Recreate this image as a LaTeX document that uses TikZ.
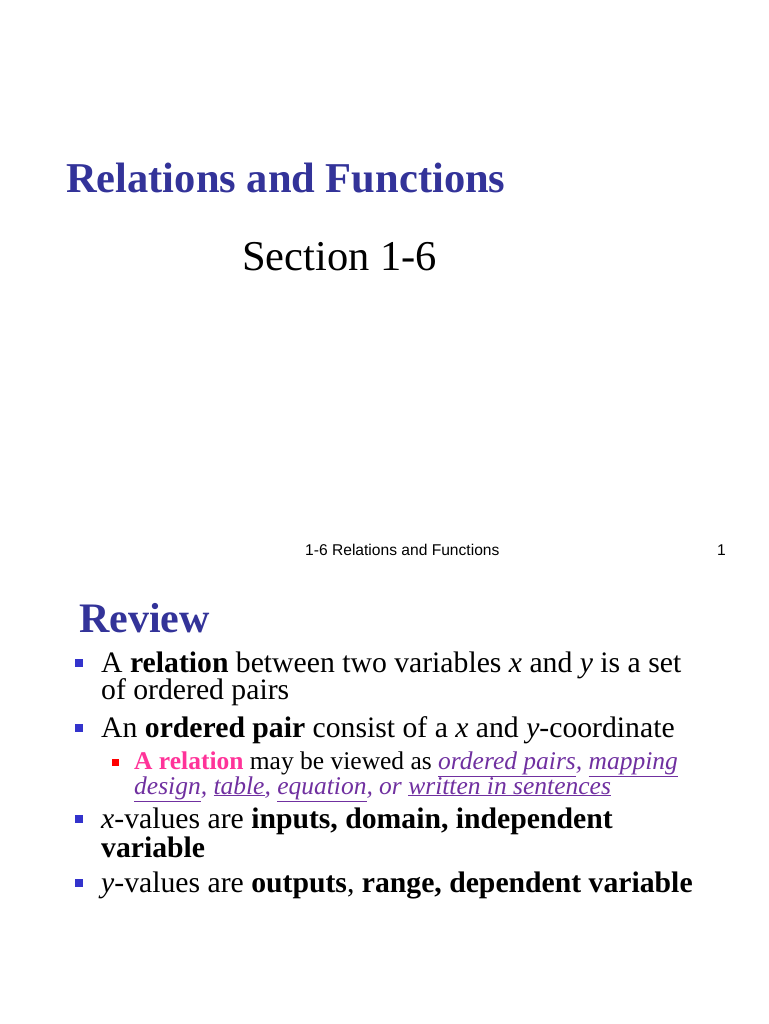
\documentclass[tikz,border=0pt]{standalone}
\usepackage{fontspec}
\setmainfont{Liberation Serif}
\newfontfamily\footfont{Liberation Sans}
\definecolor{titleblue}{HTML}{333399}
\definecolor{bulblue}{HTML}{3333CC}
\definecolor{linkpurple}{HTML}{7030A0}
\definecolor{relpink}{HTML}{FF3399}
\newcommand{\lk}[1]{\underline{\textit{#1}}}
\begin{document}
\begin{tikzpicture}[x=1pt,y=-1pt,
  txt/.style={anchor=base west,inner sep=0pt,font=\fontsize{29.7}{34}\selectfont},
  subtxt/.style={anchor=base west,inner sep=0pt,font=\fontsize{25.5}{30}\selectfont},
  bul/.style={fill=bulblue,minimum size=8.5pt,inner sep=0pt},
  subbul/.style={fill=red,minimum size=7pt,inner sep=0pt}]
\useasboundingbox (0,0) rectangle (768,1024);
\fill[white] (0,0) rectangle (768,1024);
\node[anchor=base west,inner sep=0pt,text=titleblue,font=\fontsize{42.5}{48}\selectfont\bfseries] (title) at (66,193) {Relations and Functions};
\node[anchor=base west,inner sep=0pt,font=\fontsize{42.5}{48}\selectfont] (sec) at (242,270) {Section 1-6};
\node[anchor=base west,inner sep=0pt,font=\footfont\fontsize{15.6}{18}\selectfont] (foot) at (305,555) {1-6 Relations and Functions};
\node[anchor=base east,inner sep=0pt,font=\footfont\fontsize{15.6}{18}\selectfont] (pg) at (726,555) {1};
\node[anchor=base west,inner sep=0pt,text=titleblue,font=\fontsize{42}{46}\selectfont\bfseries] (rev) at (79,632) {Review};
\node[bul] (b1) at (79,663) {};
\node[txt] (t1a) at (101,672) {A \textbf{relation} between two variables \textit{x} and \textit{y} is a set};
\node[txt] (t1b) at (101,699) {of ordered pairs};
\node[bul] (b2) at (79,728) {};
\node[txt] (t2) at (101,737) {An \textbf{ordered pair} consist of a \textit{x} and \textit{y}-coordinate};
\node[subbul] (sb) at (115,762) {};
\node[subtxt] (s1) at (134,769) {\textcolor{relpink}{\textbf{A relation}} may be viewed as \textcolor{linkpurple}{\lk{ordered pairs}\textit{,} \lk{mapping}}};
\node[subtxt] (s2) at (134,794) {\textcolor{linkpurple}{\lk{design}\textit{,} \lk{table}\textit{,} \lk{equation}\textit{, or} \lk{written in sentences}}};
\node[bul] (b3) at (79,819) {};
\node[txt] (t3a) at (101,828) {\textit{x}-values are \textbf{inputs, domain, independent}};
\node[txt] (t3b) at (101,857) {\textbf{variable}};
\node[bul] (b4) at (79,883) {};
\node[txt] (t4) at (101,892) {\textit{y}-values are \textbf{outputs}, \textbf{range, dependent variable}};
\end{tikzpicture}
\end{document}
